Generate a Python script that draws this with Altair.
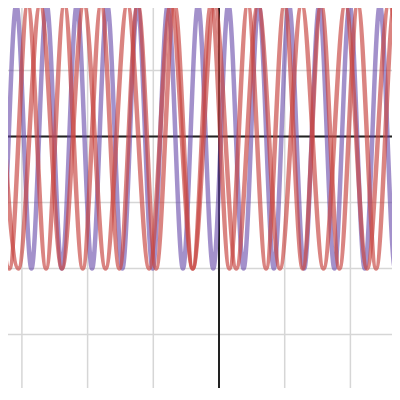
import altair as alt
import pandas as pd

# Extrema (x in graph units); y alternates peak/trough
purple_x = [-3.544, -3.316, -3.085, -2.855, -2.624, -2.393, -2.163, -1.932, -1.702, -1.471,
            -1.240, -1.010, -0.779, -0.549, -0.318, -0.088, 0.143, 0.374, 0.604, 0.835,
            1.065, 1.296, 1.527, 1.757, 1.988, 2.218, 2.449, 2.680, 2.910]
purple_y = [2, -2] * 14 + [2]

redA_x = [-3.469, -3.190, -2.911, -2.632, -2.353, -2.074, -1.795, -1.516, -1.237, -0.958,
          -0.679, -0.400, -0.120, 0.159, 0.438, 0.717, 0.996, 1.275, 1.554, 1.833,
          2.112, 2.391, 2.670, 2.949]
redA_y = [2, -2] * 12

redB_x = [-3.385, -3.053, -2.722, -2.390, -2.058, -1.727, -1.395, -1.063, -0.732, -0.400,
          -0.068, 0.263, 0.595, 0.927, 1.258, 1.590, 1.922, 2.253, 2.585, 2.917]
redB_y = [2, -2] * 10

grid_x = [-3, -2, -1, 0, 1, 2]
grid_y = [-3, -2, -1, 0, 1]
axis_zero = [0]

X_DOMAIN = [-3.2116, 2.6332]
Y_DOMAIN = [-3.8106, 1.9470]

xs = alt.Scale(domain=X_DOMAIN, nice=False, zero=False)
ys = alt.Scale(domain=Y_DOMAIN, nice=False, zero=False)

def curve(xv, yv, color, opacity):
    df = pd.DataFrame({"x": xv, "y": yv, "i": list(range(len(xv)))})
    return alt.Chart(df).mark_line(
        interpolate="monotone", color=color, strokeWidth=4.5, opacity=opacity,
        clip=True, strokeCap="round", strokeJoin="round"
    ).encode(
        x=alt.X("x:Q", scale=xs, axis=None),
        y=alt.Y("y:Q", scale=ys, axis=None),
        order="i:Q",
    )

gx = alt.Chart(pd.DataFrame({"x": grid_x})).mark_rule(color="#d6d6d6", strokeWidth=1.5).encode(
    x=alt.X("x:Q", scale=xs, axis=None))
gy = alt.Chart(pd.DataFrame({"y": grid_y})).mark_rule(color="#d6d6d6", strokeWidth=1.5).encode(
    y=alt.Y("y:Q", scale=ys, axis=None))
ax = alt.Chart(pd.DataFrame({"x": axis_zero})).mark_rule(color="#222222", strokeWidth=2).encode(
    x=alt.X("x:Q", scale=xs, axis=None))
ay = alt.Chart(pd.DataFrame({"y": axis_zero})).mark_rule(color="#222222", strokeWidth=2).encode(
    y=alt.Y("y:Q", scale=ys, axis=None))

chart = alt.layer(
    gx, gy, ax, ay,
    curve(purple_x, purple_y, "#6042a6", 0.58),
    curve(redA_x, redA_y, "#c74440", 0.66),
    curve(redB_x, redB_y, "#c74440", 0.66),
).properties(
    width=384, height=380, padding=0, autosize=alt.AutoSizeParams(type="none")
).configure_view(stroke=None)

chart.save("out.html", embed_options={"renderer": "svg", "actions": False})
